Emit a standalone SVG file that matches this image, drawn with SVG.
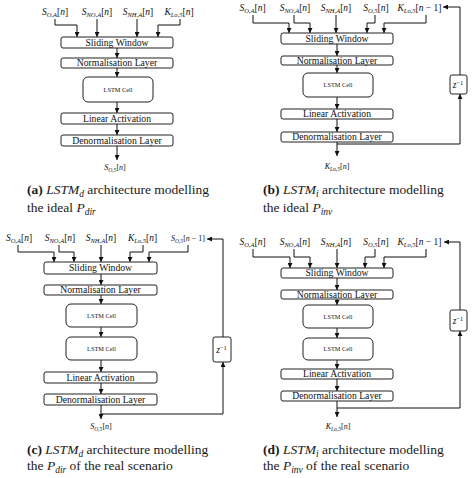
<svg xmlns="http://www.w3.org/2000/svg" width="474" height="478" viewBox="0 0 474 478">
<defs>
<marker id="ah" viewBox="0 0 6 6" refX="6" refY="3" markerWidth="5" markerHeight="5" markerUnits="userSpaceOnUse" orient="auto"><path d="M0,0 L6,3 L0,6 z" fill="#111"/></marker>
</defs>
<style>
.box{fill:#fff;stroke:#222;stroke-width:1}
text{font-family:'Liberation Serif','Times New Roman',Tinos,'DejaVu Serif',serif}
.bt{font-size:9.7px;fill:#111;text-anchor:middle}
.ct{font-size:6.3px;fill:#111;text-anchor:middle}
.lab{font-size:9.5px;fill:#111;text-anchor:middle}
.sm{font-size:8px;fill:#111;text-anchor:middle}
.it{font-style:italic}
.sub{font-size:6.5px;font-style:italic}
.cap{font-size:13.5px;fill:#1a1a1a}
.cs{font-size:9.5px;font-style:italic}
.b{font-weight:bold}
.c{fill:none;stroke:#111;stroke-width:1}
</style>
<rect width="474" height="478" fill="#fff"/>

<g id="connectors">
<!-- panel a -->
<path class="c" marker-end="url(#ah)" d="M55,19 V25 H77 V37"/>
<path class="c" marker-end="url(#ah)" d="M97,19 V37"/>
<path class="c" marker-end="url(#ah)" d="M137,19 V37"/>
<path class="c" marker-end="url(#ah)" d="M180,19 V25 H158 V37"/>
<path class="c" marker-end="url(#ah)" d="M117,48 V58"/>
<path class="c" marker-end="url(#ah)" d="M117,68 V77"/>
<path class="c" marker-end="url(#ah)" d="M117,102 V113"/>
<path class="c" marker-end="url(#ah)" d="M117,124 V135"/>
<path class="c" marker-end="url(#ah)" d="M117,146 V160"/>
<!-- panel b -->
<path class="c" marker-end="url(#ah)" d="M253,15 V23 H289 V33"/>
<path class="c" marker-end="url(#ah)" d="M294,15 V23 H310 V33"/>
<path class="c" marker-end="url(#ah)" d="M336,15 V33"/>
<path class="c" marker-end="url(#ah)" d="M375,15 V23 H367 V33"/>
<path class="c" marker-end="url(#ah)" d="M426,15 V23 H384 V33"/>
<path class="c" marker-end="url(#ah)" d="M337,44 V56"/>
<path class="c" marker-end="url(#ah)" d="M337,65 V73"/>
<path class="c" marker-end="url(#ah)" d="M337,97 V109"/>
<path class="c" marker-end="url(#ah)" d="M337,119 V132"/>
<path class="c" marker-end="url(#ah)" d="M337,142 V156"/>
<path class="c" marker-end="url(#ah)" d="M337,144 H460 V94"/>
<path class="c" marker-end="url(#ah)" d="M460,75 V7 H443"/>
<!-- panel c -->
<path class="c" marker-end="url(#ah)" d="M18,245 V252 H54 V262"/>
<path class="c" marker-end="url(#ah)" d="M59,245 V252 H74 V262"/>
<path class="c" marker-end="url(#ah)" d="M101,245 V262"/>
<path class="c" marker-end="url(#ah)" d="M143,245 V252 H130 V262"/>
<path class="c" marker-end="url(#ah)" d="M188,245 V252 H149 V262"/>
<path class="c" marker-end="url(#ah)" d="M101,274 V285"/>
<path class="c" marker-end="url(#ah)" d="M101,295 V304"/>
<path class="c" marker-end="url(#ah)" d="M101,327 V337"/>
<path class="c" marker-end="url(#ah)" d="M101,360 V372"/>
<path class="c" marker-end="url(#ah)" d="M101,383 V394"/>
<path class="c" marker-end="url(#ah)" d="M101,405 V419"/>
<path class="c" marker-end="url(#ah)" d="M101,414 H223 V362"/>
<path class="c" marker-end="url(#ah)" d="M223,337 V239 H207"/>
<!-- panel d -->
<path class="c" marker-end="url(#ah)" d="M253,249 V257 H290 V268"/>
<path class="c" marker-end="url(#ah)" d="M294,249 V257 H310 V268"/>
<path class="c" marker-end="url(#ah)" d="M337,249 V268"/>
<path class="c" marker-end="url(#ah)" d="M375,249 V257 H365 V268"/>
<path class="c" marker-end="url(#ah)" d="M426,249 V257 H384 V268"/>
<path class="c" marker-end="url(#ah)" d="M337,278 V290"/>
<path class="c" marker-end="url(#ah)" d="M337,299 V305"/>
<path class="c" marker-end="url(#ah)" d="M337,328 V338"/>
<path class="c" marker-end="url(#ah)" d="M337,360 V369"/>
<path class="c" marker-end="url(#ah)" d="M337,379 V391"/>
<path class="c" marker-end="url(#ah)" d="M337,401 V417"/>
<path class="c" marker-end="url(#ah)" d="M337,408 H460 V331"/>
<path class="c" marker-end="url(#ah)" d="M460,310 V242 H444"/>
</g>

<!-- ===== Panel (a) ===== -->
<g id="a-in-soa"><text class="lab" x="55" y="15"><tspan class="it">S</tspan><tspan class="sub" dy="2">O,A</tspan><tspan dy="-2">[</tspan><tspan class="it">n</tspan>]</text></g>
<g id="a-in-snoa"><text class="lab" x="97" y="15"><tspan class="it">S</tspan><tspan class="sub" dy="2">NO,A</tspan><tspan dy="-2">[</tspan><tspan class="it">n</tspan>]</text></g>
<g id="a-in-snha"><text class="lab" x="138" y="15"><tspan class="it">S</tspan><tspan class="sub" dy="2">NH,A</tspan><tspan dy="-2">[</tspan><tspan class="it">n</tspan>]</text></g>
<g id="a-in-k"><text class="lab" x="179" y="15"><tspan class="it">K</tspan><tspan class="sub" dy="2">Lo,5</tspan><tspan dy="-2">[</tspan><tspan class="it">n</tspan>]</text></g>
<g id="a-sliding"><rect class="box" x="61" y="37" width="112" height="11" rx="2"/><text class="bt" x="117" y="45.5">Sliding Window</text></g>
<g id="a-norm"><rect class="box" x="61" y="58" width="112" height="10" rx="2"/><text class="bt" x="117" y="66">Normalisation Layer</text></g>
<g id="a-lstm"><rect class="box" x="83" y="77" width="70" height="25" rx="5"/><text class="ct" x="118" y="91.5">LSTM Cell</text></g>
<g id="a-linear"><rect class="box" x="61" y="113" width="112" height="11" rx="2"/><text class="bt" x="117" y="121.5">Linear Activation</text></g>
<g id="a-denorm"><rect class="box" x="61" y="135" width="112" height="11" rx="2"/><text class="bt" x="117" y="143.5">Denormalisation Layer</text></g>
<g id="a-out"><text class="sm" x="115" y="170"><tspan class="it">S</tspan><tspan class="sub" dy="1.5" style="font-size:5.5px">O,5</tspan><tspan dy="-1.5">[</tspan><tspan class="it">n</tspan>]</text></g>
<g id="a-caption"><text class="cap" x="27" y="194"><tspan class="b">(a)</tspan> <tspan class="it">LSTM</tspan><tspan class="cs" dy="3">d</tspan><tspan dy="-3"> architecture modelling</tspan></text>
<text class="cap" x="27" y="212">the ideal <tspan class="it">P</tspan><tspan class="cs" dy="3">dir</tspan></text></g>

<!-- ===== Panel (b) ===== -->
<g id="b-in-soa"><text class="lab" x="252.5" y="11"><tspan class="it">S</tspan><tspan class="sub" dy="2">O,A</tspan><tspan dy="-2">[</tspan><tspan class="it">n</tspan>]</text></g>
<g id="b-in-snoa"><text class="lab" x="295" y="11"><tspan class="it">S</tspan><tspan class="sub" dy="2">NO,A</tspan><tspan dy="-2">[</tspan><tspan class="it">n</tspan>]</text></g>
<g id="b-in-snha"><text class="lab" x="336" y="11"><tspan class="it">S</tspan><tspan class="sub" dy="2">NH,A</tspan><tspan dy="-2">[</tspan><tspan class="it">n</tspan>]</text></g>
<g id="b-in-so5"><text class="lab" x="376" y="11"><tspan class="it">S</tspan><tspan class="sub" dy="2">O,5</tspan><tspan dy="-2">[</tspan><tspan class="it">n</tspan>]</text></g>
<g id="b-in-k"><text class="lab" x="419.5" y="11"><tspan class="it">K</tspan><tspan class="sub" dy="2">Lo,5</tspan><tspan dy="-2">[</tspan><tspan class="it">n</tspan> − 1]</text></g>
<g id="b-sliding"><rect class="box" x="281" y="33" width="112" height="11" rx="2"/><text class="bt" x="337" y="41.5">Sliding Window</text></g>
<g id="b-norm"><rect class="box" x="281" y="56" width="112" height="9" rx="2"/><text class="bt" x="337" y="63.5">Normalisation Layer</text></g>
<g id="b-lstm"><rect class="box" x="303" y="73" width="70" height="24" rx="5"/><text class="ct" x="338" y="87">LSTM Cell</text></g>
<g id="b-linear"><rect class="box" x="281" y="109" width="112" height="10" rx="2"/><text class="bt" x="337" y="117">Linear Activation</text></g>
<g id="b-denorm"><rect class="box" x="281" y="132" width="112" height="10" rx="2"/><text class="bt" x="337" y="140">Denormalisation Layer</text></g>
<g id="b-delay"><rect class="box" x="450" y="75" width="17" height="19" rx="2"/><text class="lab" x="458" y="88"><tspan class="it">z</tspan><tspan dy="-3.5" style="font-size:6.5px">−1</tspan></text></g>
<g id="b-out"><text class="sm" x="337" y="169"><tspan class="it">K</tspan><tspan class="sub" dy="1.5" style="font-size:5.5px">Lo,5</tspan><tspan dy="-1.5">[</tspan><tspan class="it">n</tspan>]</text></g>
<g id="b-caption"><text class="cap" x="263" y="194"><tspan class="b">(b)</tspan> <tspan class="it">LSTM</tspan><tspan class="cs" dy="3">i</tspan><tspan dy="-3"> architecture modelling</tspan></text>
<text class="cap" x="263" y="212">the ideal <tspan class="it">P</tspan><tspan class="cs" dy="3">inv</tspan></text></g>

<!-- ===== Panel (c) ===== -->
<g id="c-in-soa"><text class="lab" x="19" y="241"><tspan class="it">S</tspan><tspan class="sub" dy="2">O,A</tspan><tspan dy="-2">[</tspan><tspan class="it">n</tspan>]</text></g>
<g id="c-in-snoa"><text class="lab" x="60" y="241"><tspan class="it">S</tspan><tspan class="sub" dy="2">NO,A</tspan><tspan dy="-2">[</tspan><tspan class="it">n</tspan>]</text></g>
<g id="c-in-snha"><text class="lab" x="101" y="241"><tspan class="it">S</tspan><tspan class="sub" dy="2">NH,A</tspan><tspan dy="-2">[</tspan><tspan class="it">n</tspan>]</text></g>
<g id="c-in-k"><text class="lab" x="142.5" y="241"><tspan class="it">K</tspan><tspan class="sub" dy="2">Lo,5</tspan><tspan dy="-2">[</tspan><tspan class="it">n</tspan>]</text></g>
<g id="c-in-so5"><text class="sm" x="188" y="241"><tspan class="it">S</tspan><tspan class="sub" dy="1.5" style="font-size:5.5px">O,5</tspan><tspan dy="-1.5">[</tspan><tspan class="it">n</tspan> − 1]</text></g>
<g id="c-sliding"><rect class="box" x="44" y="262" width="113" height="12" rx="2"/><text class="bt" x="100.5" y="271">Sliding Window</text></g>
<g id="c-norm"><rect class="box" x="44" y="285" width="113" height="10" rx="2"/><text class="bt" x="100.5" y="293">Normalisation Layer</text></g>
<g id="c-lstm1"><rect class="box" x="66" y="304" width="71" height="23" rx="5"/><text class="ct" x="101.5" y="317.5">LSTM Cell</text></g>
<g id="c-lstm2"><rect class="box" x="66" y="337" width="71" height="23" rx="5"/><text class="ct" x="101.5" y="350.5">LSTM Cell</text></g>
<g id="c-linear"><rect class="box" x="44" y="372" width="113" height="11" rx="2"/><text class="bt" x="100.5" y="380.5">Linear Activation</text></g>
<g id="c-denorm"><rect class="box" x="44" y="394" width="113" height="11" rx="2"/><text class="bt" x="100.5" y="402.5">Denormalisation Layer</text></g>
<g id="c-delay"><rect class="box" x="213" y="337" width="18" height="25" rx="2"/><text class="lab" x="221.5" y="353"><tspan class="it">z</tspan><tspan dy="-3.5" style="font-size:6.5px">−1</tspan></text></g>
<g id="c-out"><text class="sm" x="101" y="429"><tspan class="it">S</tspan><tspan class="sub" dy="1.5" style="font-size:5.5px">O,5</tspan><tspan dy="-1.5">[</tspan><tspan class="it">n</tspan>]</text></g>
<g id="c-caption"><text class="cap" x="27" y="454"><tspan class="b">(c)</tspan> <tspan class="it">LSTM</tspan><tspan class="cs" dy="3">d</tspan><tspan dy="-3"> architecture modelling</tspan></text>
<text class="cap" x="27" y="470">the <tspan class="it">P</tspan><tspan class="cs" dy="3">dir</tspan><tspan dy="-3"> of the real scenario</tspan></text></g>

<!-- ===== Panel (d) ===== -->
<g id="d-in-soa"><text class="lab" x="252.5" y="245"><tspan class="it">S</tspan><tspan class="sub" dy="2">O,A</tspan><tspan dy="-2">[</tspan><tspan class="it">n</tspan>]</text></g>
<g id="d-in-snoa"><text class="lab" x="295" y="245"><tspan class="it">S</tspan><tspan class="sub" dy="2">NO,A</tspan><tspan dy="-2">[</tspan><tspan class="it">n</tspan>]</text></g>
<g id="d-in-snha"><text class="lab" x="336" y="245"><tspan class="it">S</tspan><tspan class="sub" dy="2">NH,A</tspan><tspan dy="-2">[</tspan><tspan class="it">n</tspan>]</text></g>
<g id="d-in-so5"><text class="lab" x="376" y="245"><tspan class="it">S</tspan><tspan class="sub" dy="2">O,5</tspan><tspan dy="-2">[</tspan><tspan class="it">n</tspan>]</text></g>
<g id="d-in-k"><text class="lab" x="419.5" y="245"><tspan class="it">K</tspan><tspan class="sub" dy="2">Lo,5</tspan><tspan dy="-2">[</tspan><tspan class="it">n</tspan> − 1]</text></g>
<g id="d-sliding"><rect class="box" x="281" y="268" width="112" height="10" rx="2"/><text class="bt" x="337" y="276.3">Sliding Window</text></g>
<g id="d-norm"><rect class="box" x="281" y="290" width="112" height="9" rx="2"/><text class="bt" x="337" y="297.5">Normalisation Layer</text></g>
<g id="d-lstm1"><rect class="box" x="303" y="305" width="70" height="23" rx="5"/><text class="ct" x="338" y="318.5">LSTM Cell</text></g>
<g id="d-lstm2"><rect class="box" x="303" y="338" width="70" height="22" rx="5"/><text class="ct" x="338" y="351">LSTM Cell</text></g>
<g id="d-linear"><rect class="box" x="281" y="369" width="112" height="10" rx="2"/><text class="bt" x="337" y="377.3">Linear Activation</text></g>
<g id="d-denorm"><rect class="box" x="281" y="391" width="112" height="10" rx="2"/><text class="bt" x="337" y="399.3">Denormalisation Layer</text></g>
<g id="d-delay"><rect class="box" x="450" y="310" width="17" height="21" rx="2"/><text class="lab" x="458" y="324"><tspan class="it">z</tspan><tspan dy="-3.5" style="font-size:6.5px">−1</tspan></text></g>
<g id="d-out"><text class="sm" x="338" y="429"><tspan class="it">K</tspan><tspan class="sub" dy="1.5" style="font-size:5.5px">Lo,5</tspan><tspan dy="-1.5">[</tspan><tspan class="it">n</tspan>]</text></g>
<g id="d-caption"><text class="cap" x="263" y="454"><tspan class="b">(d)</tspan> <tspan class="it">LSTM</tspan><tspan class="cs" dy="3">i</tspan><tspan dy="-3"> architecture modelling</tspan></text>
<text class="cap" x="263" y="470">the <tspan class="it">P</tspan><tspan class="cs" dy="3">inv</tspan><tspan dy="-3"> of the real scenario</tspan></text></g>
</svg>
